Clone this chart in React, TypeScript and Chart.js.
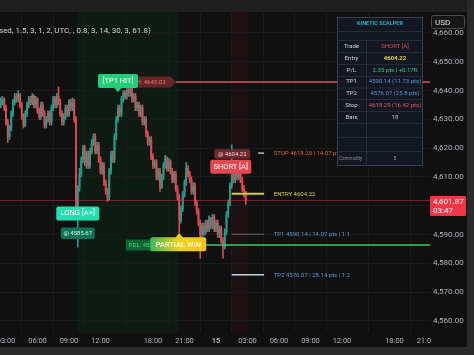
import { useEffect, useRef } from "react";
import { Chart, registerables } from "chart.js";

Chart.register(...registerables);

// 10-minute candles: [open, high, low, close]
const candles: number[][] = [
  [4635, 4637.5, 4634, 4636], [4636, 4638, 4635, 4637], [4637, 4637.5, 4633, 4634], [4634, 4635, 4628, 4629],
  [4629, 4630, 4622, 4624], [4624, 4628, 4623, 4627], [4627, 4633, 4626, 4632], [4632, 4637, 4631, 4636],
  [4636, 4639, 4635, 4638], [4638, 4639, 4636, 4637], [4637, 4640, 4636, 4638.5], [4638.5, 4639, 4634, 4635],
  [4635, 4636, 4630, 4631], [4631, 4632, 4627, 4628], [4628, 4633, 4627.5, 4632], [4632, 4636, 4631, 4635],
  [4635, 4638, 4634, 4637], [4637, 4638, 4635, 4636], [4636, 4639, 4635, 4638], [4638, 4638.5, 4634, 4635],
  [4635, 4638, 4634, 4637], [4637, 4637.5, 4632, 4633], [4633, 4634, 4630, 4631], [4631, 4636, 4630, 4635],
  [4635, 4636, 4631, 4632], [4632, 4633, 4627, 4628], [4628, 4631, 4627, 4630], [4630, 4633, 4629, 4632],
  [4632, 4633, 4628, 4629], [4629, 4635, 4628, 4634], [4634, 4638, 4633, 4637], [4637, 4638, 4634, 4635],
  [4635, 4639, 4634, 4638], [4638, 4641.3, 4635, 4636], [4636, 4637, 4631, 4632], [4632, 4633, 4628, 4629],
  [4629, 4632, 4628, 4631], [4631, 4635, 4630, 4634], [4634, 4635, 4631, 4632], [4632, 4637, 4631, 4636],
  [4636, 4637, 4633, 4634], [4634, 4637.5, 4633, 4636], [4636, 4637, 4629, 4630], [4630, 4631, 4599, 4600],
  [4600, 4607, 4585.67, 4606], [4606, 4613, 4605, 4611], [4611, 4617, 4610, 4616], [4616, 4621, 4615, 4620],
  [4620, 4621, 4614, 4615], [4615, 4619, 4613, 4618], [4618, 4619, 4613, 4614], [4614, 4620, 4613, 4619],
  [4619, 4623, 4618, 4622], [4622, 4625, 4621, 4624], [4624, 4625, 4618, 4619], [4619, 4622, 4618, 4621],
  [4621, 4622, 4615, 4616], [4616, 4617, 4611, 4612], [4612, 4615, 4611, 4614], [4614, 4615, 4607, 4608],
  [4608, 4609, 4604, 4605], [4605, 4606, 4601.5, 4603], [4603, 4613, 4602, 4612], [4612, 4619, 4611, 4618],
  [4618, 4619, 4615, 4616], [4616, 4625, 4615, 4624], [4624, 4631, 4623, 4630], [4630, 4635, 4629, 4634],
  [4634, 4635, 4631, 4632], [4632, 4638, 4631, 4637], [4637, 4640, 4636, 4639], [4639, 4640, 4637, 4638],
  [4638, 4641, 4637, 4640], [4640, 4641, 4638, 4639], [4639, 4641.5, 4638, 4640.5], [4640.5, 4641, 4636, 4637],
  [4637, 4639, 4636, 4638], [4638, 4639, 4633, 4634], [4634, 4636, 4633, 4635], [4635, 4636, 4631, 4632],
  [4632, 4635, 4631, 4634], [4634, 4635, 4628, 4629], [4629, 4631, 4628, 4630], [4630, 4631, 4624, 4625],
  [4625, 4626, 4621, 4622], [4622, 4624, 4621, 4623], [4623, 4624, 4616, 4617], [4617, 4618, 4613, 4614],
  [4614, 4616, 4613, 4615], [4615, 4616, 4609, 4610], [4610, 4613, 4609, 4612], [4612, 4613, 4605, 4606.5],
  [4606.5, 4611, 4606, 4610], [4610, 4615, 4609, 4614], [4614, 4617.5, 4613, 4616.5], [4616.5, 4617, 4612, 4613],
  [4613, 4616.5, 4612, 4615.5], [4615.5, 4616, 4611, 4612], [4612, 4613, 4608, 4609], [4609, 4612, 4608, 4611],
  [4611, 4612, 4605, 4606], [4606, 4607, 4602, 4603], [4603, 4604, 4590.5, 4595], [4595, 4600, 4594, 4599],
  [4599, 4605, 4598, 4604], [4604, 4609, 4603, 4608], [4608, 4615, 4607, 4613], [4613, 4614, 4610, 4611],
  [4611, 4612, 4608, 4609], [4609, 4610, 4604, 4605], [4605, 4608, 4604, 4607], [4607, 4608, 4600, 4601],
  [4601, 4602, 4597, 4598], [4598, 4599, 4593, 4594], [4594, 4595, 4581.8, 4590], [4590, 4594, 4589, 4593],
  [4593, 4594, 4589.5, 4590.5], [4590.5, 4595, 4590, 4594], [4594, 4595, 4591, 4592], [4592, 4596.5, 4591, 4595.5],
  [4595.5, 4596, 4592, 4593], [4593, 4597, 4592, 4596], [4596, 4597, 4591, 4592], [4592, 4595, 4591, 4594],
  [4594, 4595, 4589, 4590], [4590, 4593, 4589, 4592], [4592, 4593, 4587, 4588], [4588, 4589, 4581.8, 4586],
  [4586, 4592, 4585, 4591], [4591, 4598, 4590, 4597], [4597, 4602, 4596, 4601], [4601, 4608, 4600, 4607],
  [4607, 4621.2, 4606, 4612], [4612, 4614, 4608, 4609], [4609, 4613, 4608, 4612], [4612, 4613, 4609, 4610],
  [4610, 4614, 4609, 4613], [4613, 4614, 4608, 4609], [4609, 4610, 4605, 4606], [4606, 4607, 4603, 4604],
  [4604, 4605, 4600.5, 4601.87],
];

const xTickIndex = [3, 21, 39, 57, 87, 105, 123, 141, 159, 177, 195, 225, 243];
const xTickText = ["03:00", "06:00", "09:00", "12:00", "18:00", "21:00", "15", "03:00", "06:00", "09:00", "12:00", "18:00", "21:00"];
const yTickValues = [4560, 4570, 4580, 4590, 4600, 4610, 4620, 4630, 4640, 4650, 4660];

const lastPrice = 4601.87;
const countdown = "03:47";
const pdhPrice = 4643.02;
const pdlPrice = 4586.41;
const entryPrice = 4604.22;
const stopPrice = 4618.29;
const tp1Price = 4590.14;
const tp2Price = 4576.07;

const levelStartIndex = 100;
const tradeStartIndex = 132;
const tradeEndIndex = 150.5;
const tradeTextIndex = 156;
const longIndex = 44;
const longPrice = 4585.67;
const tp1HitIndex = 67;
const tp1HitPrice = 4639.5;
const partialIndex = 102;
const partialPrice = 4590.5;
const shortIndex = 132;
const shortPrice = 4621.2;
const greenZone = [44, 101];
const redZone = [132, 141];

const headerText = "sed, 1.5, 3, 1, 2, UTC, , 0.8, 3, 14, 30, 3, 61.8)";
const tableTitle = "KINETIC SCALPER";
const tableLabels = ["Trade", "Entry", "P/L", "TP1", "TP2", "Stop", "Bars"];
const tableValues = ["SHORT [A]", "4604.22", "2.35 pts | +0.17R", "4590.14 (11.73 pts)", "4576.07 (25.8 pts)", "4618.29 (16.42 pts)", "18"];
const tableValueColors = ["#e4484f", "#e8e23a", "#2fd07a", "#4f95dc", "#4f95dc", "#e35a5a", "#c4c4c4"];
const footerLabel = "Commodity";
const footerValue = "5";

const BG = "#101010";
const BULL = "#2a9a8c";
const BEAR = "#dc4a52";
const FONT = "Roboto, 'Noto Sans', sans-serif";

export default function App() {
  const ref = useRef<HTMLCanvasElement>(null);

  useEffect(() => {
    document.body.style.margin = "0";
    document.body.style.background = BG;
    const canvas = ref.current!;
    const colors = candles.map((c) => (c[3] >= c[0] ? BULL : BEAR));

    const text = (ctx: CanvasRenderingContext2D, s: string, x: number, y: number, color: string, font: string, align: CanvasTextAlign = "left") => {
      ctx.fillStyle = color;
      ctx.font = font;
      ctx.textAlign = align;
      ctx.textBaseline = "middle";
      ctx.fillText(s, x, y);
    };
    const hline = (ctx: CanvasRenderingContext2D, x1: number, x2: number, y: number, color: string, w: number) => {
      ctx.strokeStyle = color;
      ctx.lineWidth = w;
      ctx.beginPath();
      ctx.moveTo(x1, y);
      ctx.lineTo(x2, y);
      ctx.stroke();
    };
    const box = (ctx: CanvasRenderingContext2D, x: number, y: number, w: number, h: number, fill: string | CanvasGradient, r = 2) => {
      ctx.fillStyle = fill;
      ctx.beginPath();
      ctx.roundRect(x, y, w, h, r);
      ctx.fill();
    };
    const tri = (ctx: CanvasRenderingContext2D, pts: number[], fill: string | CanvasGradient) => {
      ctx.fillStyle = fill;
      ctx.beginPath();
      ctx.moveTo(pts[0], pts[1]);
      ctx.lineTo(pts[2], pts[3]);
      ctx.lineTo(pts[4], pts[5]);
      ctx.closePath();
      ctx.fill();
    };

    const overlay = {
      id: "overlay",
      beforeDraw(chart: any) {
        const { ctx, chartArea: a, scales } = chart;
        const xs = scales.x;
        ctx.save();
        ctx.fillStyle = BG;
        ctx.fillRect(0, 0, 474, 355);
        ctx.fillStyle = "#1f1f1f";
        ctx.fillRect(0, 0, 474, 12);
        ctx.fillStyle = "#2a2a2a";
        ctx.fillRect(0, 347, 474, 8);
        ctx.fillRect(467, 0, 7, 355);
        const gx1 = xs.getPixelForValue(greenZone[0] - 0.5);
        const gx2 = xs.getPixelForValue(greenZone[1] + 0.5);
        ctx.fillStyle = "#0e1b13";
        ctx.fillRect(gx1, a.top, gx2 - gx1, a.bottom - a.top);
        const rx1 = xs.getPixelForValue(redZone[0] - 0.5);
        const rx2 = xs.getPixelForValue(redZone[1] + 0.5);
        ctx.fillStyle = "#1d1011";
        ctx.fillRect(rx1, a.top, rx2 - rx1, a.bottom - a.top);
        ctx.restore();
      },
      afterDatasetsDraw(chart: any) {
        const { ctx, chartArea: a, scales } = chart;
        const X = (v: number) => scales.x.getPixelForValue(v);
        const Y = (v: number) => scales.y.getPixelForValue(v);
        ctx.save();
        ctx.beginPath();
        ctx.rect(a.left, a.top, a.right - a.left, a.bottom - a.top);
        ctx.clip();

        // current price line
        hline(ctx, a.left, a.right, Math.round(Y(lastPrice)) + 0.5, "rgba(242,54,69,0.45)", 1);

        // PDH / PDL levels
        const lx = X(levelStartIndex);
        hline(ctx, lx, a.right, Y(pdhPrice), "#e0525e", 1.5);
        hline(ctx, lx, a.right, Y(pdlPrice), "#2ecc71", 1.5);
        const yh = Y(pdhPrice);
        ctx.fillStyle = "rgba(125,40,45,0.8)";
        ctx.beginPath();
        ctx.moveTo(lx - 50, yh - 5.5);
        ctx.lineTo(lx - 5, yh - 5.5);
        ctx.lineTo(lx, yh);
        ctx.lineTo(lx - 5, yh + 5.5);
        ctx.lineTo(lx - 50, yh + 5.5);
        ctx.closePath();
        ctx.fill();
        text(ctx, "PDH: " + pdhPrice.toFixed(2), lx - 47, yh + 0.5, "#e07878", `6px ${FONT}`);
        const yl = Y(pdlPrice);
        ctx.fillStyle = "rgba(18,120,62,0.8)";
        ctx.beginPath();
        ctx.moveTo(lx - 50, yl - 5.5);
        ctx.lineTo(lx - 5, yl - 5.5);
        ctx.lineTo(lx, yl);
        ctx.lineTo(lx - 5, yl + 5.5);
        ctx.lineTo(lx - 50, yl + 5.5);
        ctx.closePath();
        ctx.fill();
        text(ctx, "PDL: " + pdlPrice.toFixed(2), lx - 47, yl + 0.5, "#45d585", `6px ${FONT}`);

        // trade levels
        const t1 = X(tradeStartIndex);
        const t2 = X(tradeEndIndex);
        hline(ctx, t1, t2, Y(entryPrice), "#d6cc3a", 2);
        hline(ctx, t1, t2, Y(tp1Price), "#6c6c6c", 1);
        hline(ctx, t1, t2, Y(tp2Price), "#b9d3ef", 1.5);
        hline(ctx, t2 - 6, t2, Y(stopPrice), "#bdbdbd", 1.5);
        const tx = X(tradeTextIndex);
        const f6 = `6px ${FONT}`;
        text(ctx, `STOP ${stopPrice.toFixed(2)} | 14.07 pts`, tx, Y(stopPrice) + 0.5, "#d8643c", f6);
        text(ctx, `ENTRY ${entryPrice.toFixed(2)}`, tx, Y(entryPrice) + 0.5, "#d8cf3c", f6);
        text(ctx, `TP1 ${tp1Price.toFixed(2)} | 14.07 pts | 1:1`, tx, Y(tp1Price) + 0.5, "#5b9bd5", f6);
        text(ctx, `TP2 ${tp2Price.toFixed(2)} | 28.14 pts | 1:2`, tx, Y(tp2Price) + 0.5, "#5b9bd5", f6);

        // TP1 HIT label (pointer down)
        {
          const cx = X(tp1HitIndex);
          const ty = Y(tp1HitPrice);
          box(ctx, cx - 20, ty - 18, 40, 14, "#1fcf78");
          tri(ctx, [cx - 4, ty - 4.5, cx + 4, ty - 4.5, cx, ty], "#1fcf78");
          text(ctx, "[TP1 HIT]", cx, ty - 10.5, "#ffffff", `7.5px ${FONT}`, "center");
        }
        // PARTIAL WIN (pointer up)
        {
          const cx = X(partialIndex);
          const ty = Y(partialPrice);
          const g = ctx.createLinearGradient(cx - 28, 0, cx + 28, 0);
          g.addColorStop(0, "#3dbb5c");
          g.addColorStop(0.5, "#f0d21e");
          g.addColorStop(1, "#f3c11a");
          box(ctx, cx - 29, ty + 4, 56, 14, g);
          tri(ctx, [cx - 4, ty + 4.5, cx + 4, ty + 4.5, cx, ty], "#f0d21e");
          text(ctx, "PARTIAL WIN", cx - 1, ty + 11.5, "#fff6c8", `600 7.5px ${FONT}`, "center");
        }
        // LONG label
        {
          const cx = X(longIndex);
          const ly = Y(longPrice);
          box(ctx, cx - 21.5, ly - 40.5, 43, 14, "#22dfae");
          text(ctx, "LONG [A+]", cx, ly - 33.5, "#ffffff", `7.5px ${FONT}`, "center");
          box(ctx, cx - 17, ly - 19.5, 34, 11.5, "#0f7358");
          text(ctx, "@ " + longPrice.toFixed(2), cx, ly - 13.5, "#d6f3ea", `6px ${FONT}`, "center");
        }
        // SHORT label
        {
          const cx = X(shortIndex);
          const sy = Y(shortPrice);
          box(ctx, cx - 17.5, sy + 4.5, 36, 9.5, "#6e2a2f");
          text(ctx, "@ " + entryPrice.toFixed(2), cx + 0.5, sy + 9.5, "#f1d6d6", `6px ${FONT}`, "center");
          box(ctx, cx - 21.5, sy + 15, 41, 14, "#e5474f");
          text(ctx, "SHORT [A]", cx - 1, sy + 22, "#ffffff", `7.5px ${FONT}`, "center");
        }
        ctx.restore();
      },
      afterDraw(chart: any) {
        const { ctx, scales, chartArea: a } = chart;
        const Y = (v: number) => scales.y.getPixelForValue(v);
        ctx.save();
        // cover tail of the last time label under the price axis
        ctx.fillStyle = BG;
        ctx.fillRect(a.right + 1, a.bottom + 1, 467 - a.right - 1, 13);

        // header legend text
        text(ctx, headerText, -1, 31, "#d1d4dc", `8px ${FONT}`);

        // USD box
        ctx.fillStyle = "#161616";
        ctx.strokeStyle = "#4a4a4a";
        ctx.lineWidth = 1;
        ctx.beginPath();
        ctx.roundRect(431.5, 15.5, 33, 13, 2);
        ctx.fill();
        ctx.stroke();
        text(ctx, "USD", 435, 22.5, "#e0e0e0", `8px ${FONT}`);

        // last price label
        const py = Y(lastPrice);
        box(ctx, 430, py - 4.5, 36, 20, "#f23645", 1.5);
        text(ctx, lastPrice.toLocaleString("en-US", { minimumFractionDigits: 2 }), 433, py + 1.5, "#ffffff", `8px ${FONT}`);
        text(ctx, countdown, 433, py + 10.5, "#ffffff", `8px ${FONT}`);

        // table
        const L = 337, R = 423, M = 366;
        const rows = [17, 31, 40, 52, 64, 76, 87.5, 99, 111, 123, 137, 151, 166];
        ctx.fillStyle = "rgba(20,24,35,0.97)";
        ctx.fillRect(L, rows[0], R - L, rows[rows.length - 1] - rows[0]);
        for (let i = 1; i < rows.length - 1; i++) hline(ctx, L, R, rows[i] + 0.5, "#262b39", 1);
        ctx.strokeStyle = "#262b39";
        ctx.beginPath();
        ctx.moveTo(M + 0.5, rows[2]);
        ctx.lineTo(M + 0.5, rows[rows.length - 1]);
        ctx.stroke();
        ctx.strokeStyle = "#3a3f4e";
        ctx.strokeRect(L + 0.5, rows[0] + 0.5, R - L - 1, rows[rows.length - 1] - rows[0] - 1);
        text(ctx, tableTitle, (L + R) / 2, (rows[0] + rows[1]) / 2, "#22bcd4", `600 5.5px ${FONT}`, "center");
        for (let i = 0; i < tableLabels.length; i++) {
          const cy = (rows[i + 2] + rows[i + 3]) / 2;
          text(ctx, tableLabels[i], (L + M) / 2, cy, "#cfd2d8", `6px ${FONT}`, "center");
          text(ctx, tableValues[i], (M + R) / 2 + 0.5, cy, tableValueColors[i], `${i === 1 ? "600 " : ""}6px ${FONT}`, "center");
        }
        const fy = (rows[11] + rows[12]) / 2;
        text(ctx, footerLabel, L + 2, fy, "#8a8f9a", `4.5px ${FONT}`);
        text(ctx, footerValue, (M + R) / 2 + 0.5, fy, "#9a9ea8", `5px ${FONT}`, "center");
        ctx.restore();
      },
    };

    const chart = new Chart(canvas, {
      type: "bar",
      data: {
        datasets: [
          {
            label: "wick",
            data: candles.map((c, i) => ({ x: i, y: [c[2], c[1]] })) as any,
            backgroundColor: colors,
            barThickness: 1,
            grouped: false,
            borderWidth: 0,
            order: 2,
          },
          {
            label: "body",
            data: candles.map((c, i) => ({ x: i, y: [c[0], c[3]] })) as any,
            backgroundColor: colors,
            barThickness: 1.25,
            grouped: false,
            borderWidth: 0,
            order: 1,
          },
        ],
      },
      options: {
        animation: false,
        responsive: false,
        maintainAspectRatio: false,
        layout: { padding: { left: 0, top: 12, right: 7, bottom: 8 } },
        plugins: { legend: { display: false }, tooltip: { enabled: false } },
        scales: {
          x: {
            type: "linear",
            min: -0.43,
            max: 245.3,
            offset: false,
            afterBuildTicks: (s: any) => {
              s.ticks = xTickIndex.map((v) => ({ value: v }));
            },
            afterFit: (s: any) => {
              s.height = 14;
              s.paddingLeft = 0;
              s.paddingRight = 0;
            },
            ticks: {
              autoSkip: false,
              maxRotation: 0,
              padding: 4,
              color: "#b2b5be",
              font: (c: any) => ({ family: FONT, size: 7.5, weight: c.index === 6 ? "bold" : "normal" }),
              callback: (_v: any, i: number) => xTickText[i],
            },
            grid: { color: "#1b1b1b", drawTicks: false, lineWidth: 1 },
            border: { display: false },
          },
          y: {
            type: "linear",
            position: "right",
            min: 4555.83,
            max: 4667.29,
            afterBuildTicks: (s: any) => {
              s.ticks = yTickValues.map((v) => ({ value: v }));
            },
            afterFit: (s: any) => {
              s.width = 37;
              s.paddingTop = 0;
              s.paddingBottom = 0;
            },
            ticks: {
              padding: 3,
              color: "#b2b5be",
              font: { family: FONT, size: 8 },
              callback: (v: any) => Number(v).toLocaleString("en-US", { minimumFractionDigits: 2, maximumFractionDigits: 2 }),
            },
            grid: { color: "#1b1b1b", drawTicks: false, lineWidth: 1 },
            border: { display: false },
          },
        },
      } as any,
      plugins: [overlay],
    });
    return () => chart.destroy();
  }, []);

  return <canvas ref={ref} width={474} height={355} style={{ display: "block", width: 474, height: 355 }} />;
}
